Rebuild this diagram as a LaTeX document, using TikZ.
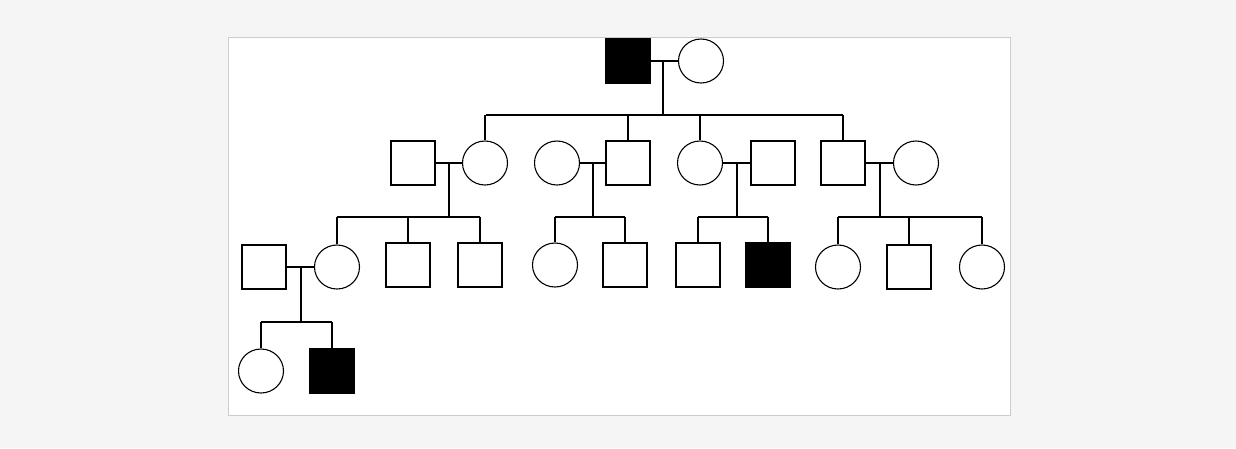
\documentclass[tikz,border=0pt]{standalone}
\usetikzlibrary{shapes.geometric}
\begin{document}
\begin{tikzpicture}[x=1pt,y=-1pt,line width=1.1pt,
  m/.style={draw,rectangle,minimum size=44pt,inner sep=0pt,fill=white},
  f/.style={draw,ellipse,minimum width=45pt,minimum height=44pt,inner sep=0pt,fill=white},
  a/.style={fill=black}]
\useasboundingbox (0,0) rectangle (1236,448);
\fill[black!4] (0,0) rectangle (1236,448);
\draw[black!20,fill=white,line width=1pt] (228,37) rectangle (1010,415);
% gen I
\node[m,a] (g1m) at (628,61) {};
\node[f] (g1f) at (701,61) {};
% gen II
\node[m] (s1) at (413,163) {}; \node[f] (c1) at (485,163) {};
\node[f] (c2) at (557,163) {}; \node[m] (s2) at (628,163) {};
\node[f] (c3) at (700,163) {}; \node[m] (s3) at (773,163) {};
\node[m] (s4) at (843,163) {}; \node[f] (c4) at (916,163) {};
% gen III
\node[m] (h5) at (264,267) {}; \node[f] (d1) at (337,267) {};
\node[m] (d2) at (408,265) {}; \node[m] (d3) at (480,265) {};
\node[f] (d4) at (555,265) {}; \node[m] (d5) at (625,265) {};
\node[m] (d6) at (698,265) {}; \node[m,a] (d7) at (768,265) {};
\node[f] (d8) at (838,267) {}; \node[m] (d9) at (909,267) {}; \node[f] (d10) at (982,267) {};
% gen IV
\node[f] (e1) at (261,371) {}; \node[m,a] (e2) at (332,371) {};
% marriages
\draw (g1m) -- (g1f); \draw (s1) -- (c1); \draw (c2) -- (s2); \draw (c3) -- (s3); \draw (s4) -- (c4); \draw (h5) -- (d1);
% descent
\coordinate (k0) at (663,61); \coordinate (b0) at (663,115);
\draw (k0) -- (b0);
\draw (486,115) -- (843,115);
\foreach \n in {c1,s2,c3,s4} \draw (\n.north |- b0) -- (\n.north);
\foreach \x/\l/\r/\kids in {449/337/480/{d1,d2,d3},593/555/625/{d4,d5},737/698/768/{d6,d7},880/838/982/{d8,d9,d10}}{
  \draw (\x,163) -- (\x,217);
  \draw (\l,217) -- (\r,217);
  \foreach \k in \kids \draw (\k.north |- 0,217) -- (\k.north);
}
\draw (301,267) -- (301,322);
\draw (261,322) -- (332,322);
\draw (e1.north |- 0,322) -- (e1.north);
\draw (e2.north |- 0,322) -- (e2.north);
\end{tikzpicture}
\end{document}
